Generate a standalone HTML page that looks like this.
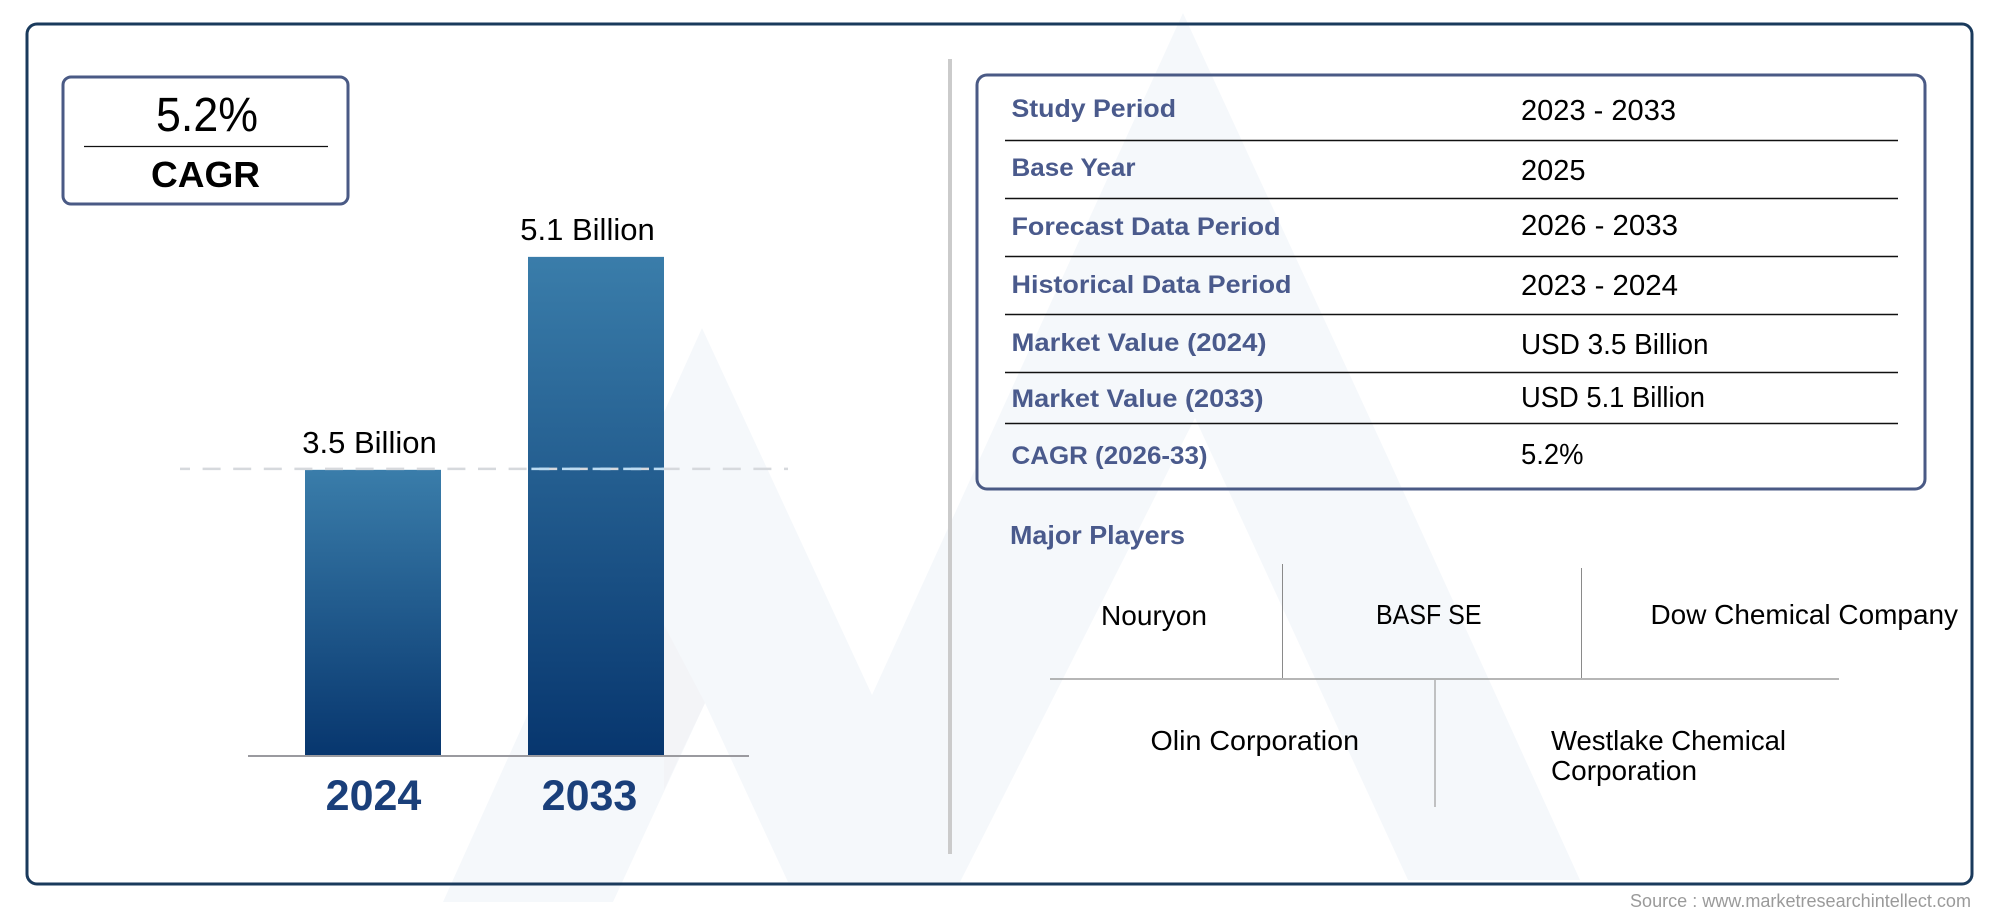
<!DOCTYPE html>
<html lang="en">
<head>
<meta charset="utf-8">
<title>Market overview</title>
<style>
html,body{margin:0;padding:0;background:#fff;width:2000px;height:917px;overflow:hidden}
svg{display:block;font-family:"Liberation Sans",sans-serif}
.lab{font-size:25px;font-weight:700;fill:#4a5a8c}
.val{font-size:29px;fill:#000}
.name{font-size:28px;fill:#000}
</style>
</head>
<body>
<svg id="root" xmlns="http://www.w3.org/2000/svg" width="2000" height="917" viewBox="0 0 2000 917">
  <defs>
    <linearGradient id="barFill" x1="0" y1="0" x2="0" y2="1">
      <stop offset="0" stop-color="#3a7daa"/>
      <stop offset="1" stop-color="#07366e"/>
    </linearGradient>
  </defs>

  <g>
    <polygon fill="#f5f8fb" points="702,328 872,695 1183,13 1389,460 1580,880 1408,880 1195,418 960,882 788,882 705,703 613,902 443,902"/>
    <polygon fill="#f3f4f7" points="664,625 705,703 680,755 664,790"/>
  </g>

  <rect x="27" y="24" width="1945" height="860" rx="10" fill="none" stroke="#1a3a5c" stroke-width="3"/>

  <g>
    <rect x="63" y="77" width="285" height="127" rx="8" fill="#fff" stroke="#4a5a85" stroke-width="3"/>
    <text x="156" y="131" font-size="48" textLength="102" lengthAdjust="spacingAndGlyphs">5.2%</text>
    <line x1="84" y1="146.5" x2="328" y2="146.5" stroke="#111" stroke-width="1.3"/>
    <text x="151" y="187" font-size="36" font-weight="700" textLength="109" lengthAdjust="spacingAndGlyphs">CAGR</text>
  </g>

  <g id="chart"></g>

  <rect x="948" y="59" width="4" height="795" fill="#cbcbcb"/>

  <g>
    <rect x="977" y="75" width="948" height="414" rx="10" fill="none" stroke="#4a5a85" stroke-width="3"/>
    <g stroke="#111" stroke-width="1.4">
      <line x1="1005" y1="140.5" x2="1898" y2="140.5"/>
      <line x1="1005" y1="198.5" x2="1898" y2="198.5"/>
      <line x1="1005" y1="256.5" x2="1898" y2="256.5"/>
      <line x1="1005" y1="314.5" x2="1898" y2="314.5"/>
      <line x1="1005" y1="372.5" x2="1898" y2="372.5"/>
      <line x1="1005" y1="423.5" x2="1898" y2="423.5"/>
    </g>
    <text class="lab" x="1011.5" y="117" textLength="164.5" lengthAdjust="spacingAndGlyphs">Study Period</text>
    <text class="lab" x="1011.5" y="176" textLength="124" lengthAdjust="spacingAndGlyphs">Base Year</text>
    <text class="lab" x="1011.5" y="235" textLength="269" lengthAdjust="spacingAndGlyphs">Forecast Data Period</text>
    <text class="lab" x="1011.5" y="293" textLength="280" lengthAdjust="spacingAndGlyphs">Historical Data Period</text>
    <text class="lab" x="1011.5" y="351" textLength="255" lengthAdjust="spacingAndGlyphs">Market Value (2024)</text>
    <text class="lab" x="1011.5" y="407" textLength="252" lengthAdjust="spacingAndGlyphs">Market Value (2033)</text>
    <text class="lab" x="1011.5" y="464" textLength="196" lengthAdjust="spacingAndGlyphs">CAGR (2026-33)</text>

    <text class="val" x="1521" y="120" textLength="155" lengthAdjust="spacingAndGlyphs">2023 - 2033</text>
    <text class="val" x="1521" y="180" textLength="64.5" lengthAdjust="spacingAndGlyphs">2025</text>
    <text class="val" x="1521" y="235" textLength="157" lengthAdjust="spacingAndGlyphs">2026 - 2033</text>
    <text class="val" x="1521" y="295" textLength="157" lengthAdjust="spacingAndGlyphs">2023 - 2024</text>
    <text class="val" x="1521" y="354" textLength="187.5" lengthAdjust="spacingAndGlyphs">USD 3.5 Billion</text>
    <text class="val" x="1521" y="407" textLength="184" lengthAdjust="spacingAndGlyphs">USD 5.1 Billion</text>
    <text class="val" x="1521" y="464" textLength="62.5" lengthAdjust="spacingAndGlyphs">5.2%</text>
  </g>

  <g>
    <text x="1010" y="544" font-size="26" font-weight="700" fill="#4a5a8c" textLength="175" lengthAdjust="spacingAndGlyphs">Major Players</text>
    <line x1="1282.5" y1="564" x2="1282.5" y2="678" stroke="#8a8a8a" stroke-width="1"/>
    <line x1="1581.5" y1="568" x2="1581.5" y2="678" stroke="#8a8a8a" stroke-width="1"/>
    <line x1="1050" y1="679" x2="1839" y2="679" stroke="#8a8a8a" stroke-width="1.3"/>
    <line x1="1435" y1="680" x2="1435" y2="807" stroke="#8a8a8a" stroke-width="1"/>
    <text class="name" x="1101" y="625" textLength="106" lengthAdjust="spacingAndGlyphs">Nouryon</text>
    <text class="name" x="1376" y="624" textLength="105.5" lengthAdjust="spacingAndGlyphs">BASF SE</text>
    <text class="name" x="1650.5" y="624" textLength="307.5" lengthAdjust="spacingAndGlyphs">Dow Chemical Company</text>
    <text class="name" x="1150.5" y="750" textLength="208.5" lengthAdjust="spacingAndGlyphs">Olin Corporation</text>
    <text class="name" x="1551" y="750" textLength="235" lengthAdjust="spacingAndGlyphs">Westlake Chemical</text>
    <text class="name" x="1551" y="780" textLength="146" lengthAdjust="spacingAndGlyphs">Corporation</text>
  </g>

  <text x="1630" y="907" font-size="18" fill="#9a9a9a" textLength="341" lengthAdjust="spacingAndGlyphs">Source : www.marketresearchintellect.com</text>
</svg>
<script>
var categories = ["2024", "2033"];
var seriesValues = [3.5, 5.1];
var valueLabels = ["3.5 Billion", "5.1 Billion"];
var referenceValue = [3.5];

var NS = "http://www.w3.org/2000/svg";
var chart = document.getElementById("chart");
var BASE_Y = 756, UNIT_PX = 133.1, DOMAIN_MIN = 1.35, BAR_W = 136;

function yScale(v) { return BASE_Y - (v - DOMAIN_MIN) * UNIT_PX; }
function barCenter(i) { return 373 + 223 * i; }
function yearCenter(i) { return 373.5 + 216 * i; }
function valueCenter(i) { return 369.5 + 218 * i; }

function make(tag, attrs) {
  var el = document.createElementNS(NS, tag);
  for (var k in attrs) el.setAttribute(k, attrs[k]);
  return el;
}

categories.forEach(function (cat, i) {
  var top = yScale(seriesValues[i]);
  var bar = make("rect", { x: barCenter(i) - BAR_W / 2, y: top, width: BAR_W, height: BASE_Y - top, fill: "url(#barFill)" });
  
  
  chart.appendChild(bar);

  var val = make("text", { x: valueCenter(i), y: top - 17, "text-anchor": "middle", "font-size": 31, fill: "#000" });
  
  
  val.textContent = valueLabels[i];
  chart.appendChild(val);

  var yr = make("text", { x: yearCenter(i), y: 810, "text-anchor": "middle", "font-size": 43, "font-weight": 700, fill: "#1a3f7a" });
  
  
  yr.textContent = cat;
  chart.appendChild(yr);
});

var axis = make("line", { x1: 248, x2: 749, y1: BASE_Y, y2: BASE_Y, stroke: "#9a9a9f", "stroke-width": 2 });


chart.appendChild(axis);

var refY = yScale(referenceValue[0]) - 1;
var dash = make("line", { x1: 180, x2: 788, y1: refY, y2: refY, stroke: "#d6d9dd", "stroke-width": 2.5, "stroke-dasharray": "18 12.6", "stroke-dashoffset": 8 });


chart.appendChild(dash);

var dashBar = make("line", { x1: barCenter(1) - BAR_W / 2, x2: barCenter(1) + BAR_W / 2, y1: refY, y2: refY, stroke: "#bcdcf2", "stroke-width": 2.5, "stroke-dasharray": "18 12.6", "stroke-dashoffset": 8 - 348 });


chart.appendChild(dashBar);
</script>
</body>
</html>
